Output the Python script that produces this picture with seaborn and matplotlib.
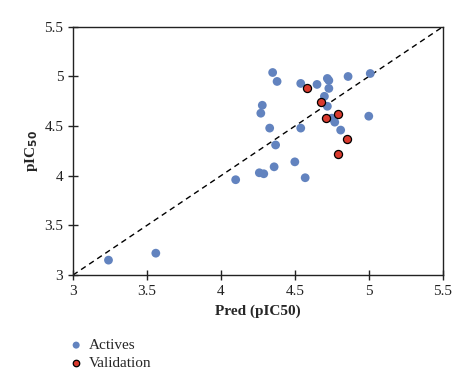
import numpy as np
import pandas as pd
import matplotlib
matplotlib.use("Agg")
import matplotlib.pyplot as plt
import seaborn as sns

# Actives (training set): predicted vs observed pIC50
act_pred = [4.35, 4.38, 4.54, 4.65, 4.72, 4.73, 4.86, 5.01, 4.73, 4.70,
            4.72, 4.28, 4.27, 5.00, 4.75, 4.77, 4.33, 4.54, 4.81, 4.37,
            4.50, 4.36, 4.26, 4.29, 4.10, 4.57, 3.24, 3.56]
act_obs = [5.04, 4.95, 4.93, 4.92, 4.98, 4.96, 5.00, 5.03, 4.88, 4.80,
           4.70, 4.71, 4.63, 4.60, 4.58, 4.54, 4.48, 4.48, 4.46, 4.31,
           4.14, 4.09, 4.03, 4.02, 3.96, 3.98, 3.15, 3.22]

# Validation set
val_pred = [4.58, 4.68, 4.71, 4.79, 4.85, 4.79]
val_obs = [4.88, 4.74, 4.58, 4.62, 4.37, 4.22]

df = pd.DataFrame({
    "pred": act_pred + val_pred,
    "obs": act_obs + val_obs,
    "set": ["Actives"] * len(act_pred) + ["Validation"] * len(val_pred),
})

sns.set_style("white")
plt.rcParams["font.family"] = ["Liberation Serif", "DejaVu Serif"]

fig = plt.figure(figsize=(4.74, 3.89), dpi=100)
ax = fig.add_axes([0.154, 0.293, 0.78, 0.638])

# y = x reference line
ax.plot([3, 5.5], [3, 5.5], ls=(0, (4, 3)), color="black", lw=1, zorder=1)

sns.scatterplot(data=df[df["set"] == "Actives"], x="pred", y="obs",
                color="#6283BF", s=40, edgecolor="none", ax=ax,
                label="Actives", zorder=2)
sns.scatterplot(data=df[df["set"] == "Validation"], x="pred", y="obs",
                color="#D93A2E", s=34, edgecolor="black", linewidth=0.9,
                ax=ax, label="Validation", zorder=3)

ax.set_xlim(3, 5.5)
ax.set_ylim(3, 5.5)
ticks = [3, 3.5, 4, 4.5, 5, 5.5]
ax.set_xticks(ticks)
ax.set_yticks(ticks)
ax.set_xticklabels(["3", "3.5", "4", "4.5", "5", "5.5"])
ax.set_yticklabels(["3", "3.5", "4", "4.5", "5", "5.5"])
ax.tick_params(direction="inout", length=7, width=1, labelsize=11,
               colors="#222222", bottom=True, left=True)
for sp in ax.spines.values():
    sp.set_color("#222222")
    sp.set_linewidth(1)

ax.set_xlabel("Pred (pIC50)", fontsize=11, fontweight="bold", labelpad=5)
ax.set_ylabel("pIC$_{\\mathbf{50}}$", fontsize=11, fontweight="bold", labelpad=3)

handles, labels = ax.get_legend_handles_labels()
ax.get_legend().remove()
fig.legend(handles, labels, loc="upper left", bbox_to_anchor=(0.151, 0.13),
           frameon=False, fontsize=11, handlelength=0.6, handletextpad=0.55,
           labelspacing=0.28, markerscale=0.8, borderaxespad=0, borderpad=0)

fig.savefig("out.png", dpi=100)
